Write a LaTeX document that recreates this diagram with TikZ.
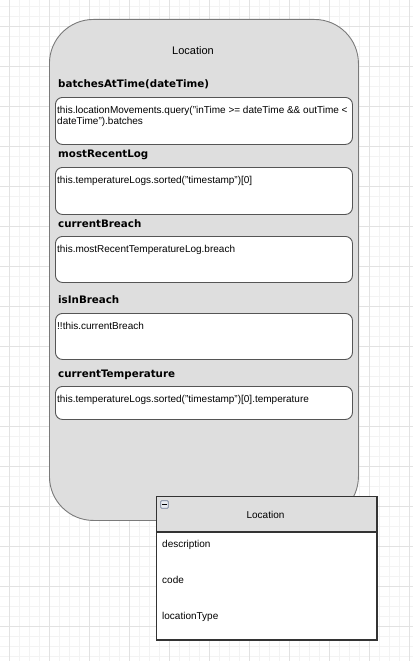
\documentclass[tikz,border=0pt]{standalone}
\usepackage{fontspec}
\setmainfont{Liberation Sans}
\newfontfamily\headfont{DejaVu Sans}
\definecolor{gridminor}{HTML}{F3F3F3}
\definecolor{gridmajor}{HTML}{E2E2E2}
\definecolor{panel}{HTML}{DEDEDE}
\definecolor{panelborder}{HTML}{7A7A7A}
\definecolor{boxborder}{HTML}{555555}
\definecolor{clsborder}{HTML}{333333}
\definecolor{iconborder}{HTML}{6E7C96}
\definecolor{iconfill}{HTML}{E8ECF2}
\begin{document}
\begin{tikzpicture}[x=1pt,y=-1pt,
  exprbox/.style={draw=boxborder, line width=0.9pt, fill=white, rounded corners=7pt, minimum width=297pt, anchor=north west, inner sep=0pt},
  exprtext/.style={anchor=base west, inner sep=0pt, font=\fontsize{10}{11}\selectfont},
  heading/.style={anchor=base west, inner sep=0pt, font=\headfont\fontsize{10.3}{13}\selectfont\bfseries},
  attr/.style={anchor=base west, inner sep=0pt, font=\fontsize{10}{12}\selectfont}
]
\useasboundingbox (0,0) rectangle (413,661);
\fill[white] (0,0) rectangle (413,661);
% grid
\foreach \x in {9,19,...,409} \draw[gridminor, line width=0.8pt] (\x,0) -- (\x,661);
\foreach \y in {6,16,...,656} \draw[gridminor, line width=0.8pt] (0,\y) -- (413,\y);
\foreach \x in {9,49,...,409} \draw[gridmajor, line width=0.9pt] (\x,0) -- (\x,661);
\foreach \y in {26,66,...,626} \draw[gridmajor, line width=0.9pt] (0,\y) -- (413,\y);

% container
\node[draw=panelborder, fill=panel, line width=0.9pt, rounded corners=44pt,
      minimum width=309pt, minimum height=501pt, anchor=north west, inner sep=0pt] (panel) at (49,19) {};
\node[anchor=base, inner sep=0pt, font=\fontsize{11}{13}\selectfont] (title) at (193,54.5) {Location};

% batchesAtTime
\node[heading] (h1) at (58,88) {batchesAtTime(dateTime)};
\node[exprbox, minimum height=47pt] (b1) at (55,97) {};
\node[exprtext] (t1) at (57,113.5) {this.locationMovements.query("inTime >= dateTime \&\& outTime <};
\node[exprtext] (t1b) at (57,124.8) {dateTime").batches};

% mostRecentLog
\node[heading] (h2) at (58,157.5) {mostRecentLog};
\node[exprbox, minimum height=47pt] (b2) at (55,167) {};
\node[exprtext] (t2) at (57,183.5) {this.temperatureLogs.sorted("timestamp")[0]};

% currentBreach
\node[heading] (h3) at (58,227.5) {currentBreach};
\node[exprbox, minimum height=46pt] (b3) at (55,236) {};
\node[exprtext] (t3) at (57,252.5) {this.mostRecentTemperatureLog.breach};

% isInBreach
\node[heading] (h4) at (58,303) {isInBreach};
\node[exprbox, minimum height=46pt] (b4) at (55,313) {};
\node[exprtext] (t4) at (57,329.5) {!!this.currentBreach};

% currentTemperature
\node[heading] (h5) at (58,377.5) {currentTemperature};
\node[exprbox, minimum height=33pt] (b5) at (55,386) {};
\node[exprtext] (t5) at (57,402.5) {this.temperatureLogs.sorted("timestamp")[0].temperature};

% class box
\node[draw=clsborder, fill=white, line width=1pt, minimum width=220pt, minimum height=143pt,
      anchor=north west, inner sep=0pt] (cls) at (156,496) {};
\fill[panel] ([xshift=0.5pt,yshift=-0.5pt]cls.north west) rectangle (375.5,532);
\draw[clsborder, line width=1pt] (cls.north west) rectangle (cls.south east);
\coordinate (divl) at (156,532);
\coordinate (divr) at (376,532);
\draw[clsborder, line width=1.3pt] (divl) -- (divr);
\node[draw=iconborder, fill=iconfill, line width=0.7pt, minimum width=7.5pt, minimum height=7.5pt,
      inner sep=0pt, rounded corners=0.8pt] (icon) at (164.5,504.5) {};
\draw[black, line width=1.1pt] ([xshift=1.8pt]icon.west) -- ([xshift=-1.8pt]icon.east);
\node[anchor=base, inner sep=0pt, font=\fontsize{10}{12}\selectfont] (clstitle) at (265.5,518) {Location};
\node[attr] (a1) at (162,547.5) {description};
\node[attr] (a2) at (162,583) {code};
\node[attr] (a3) at (162,619) {locationType};
\end{tikzpicture}
\end{document}
